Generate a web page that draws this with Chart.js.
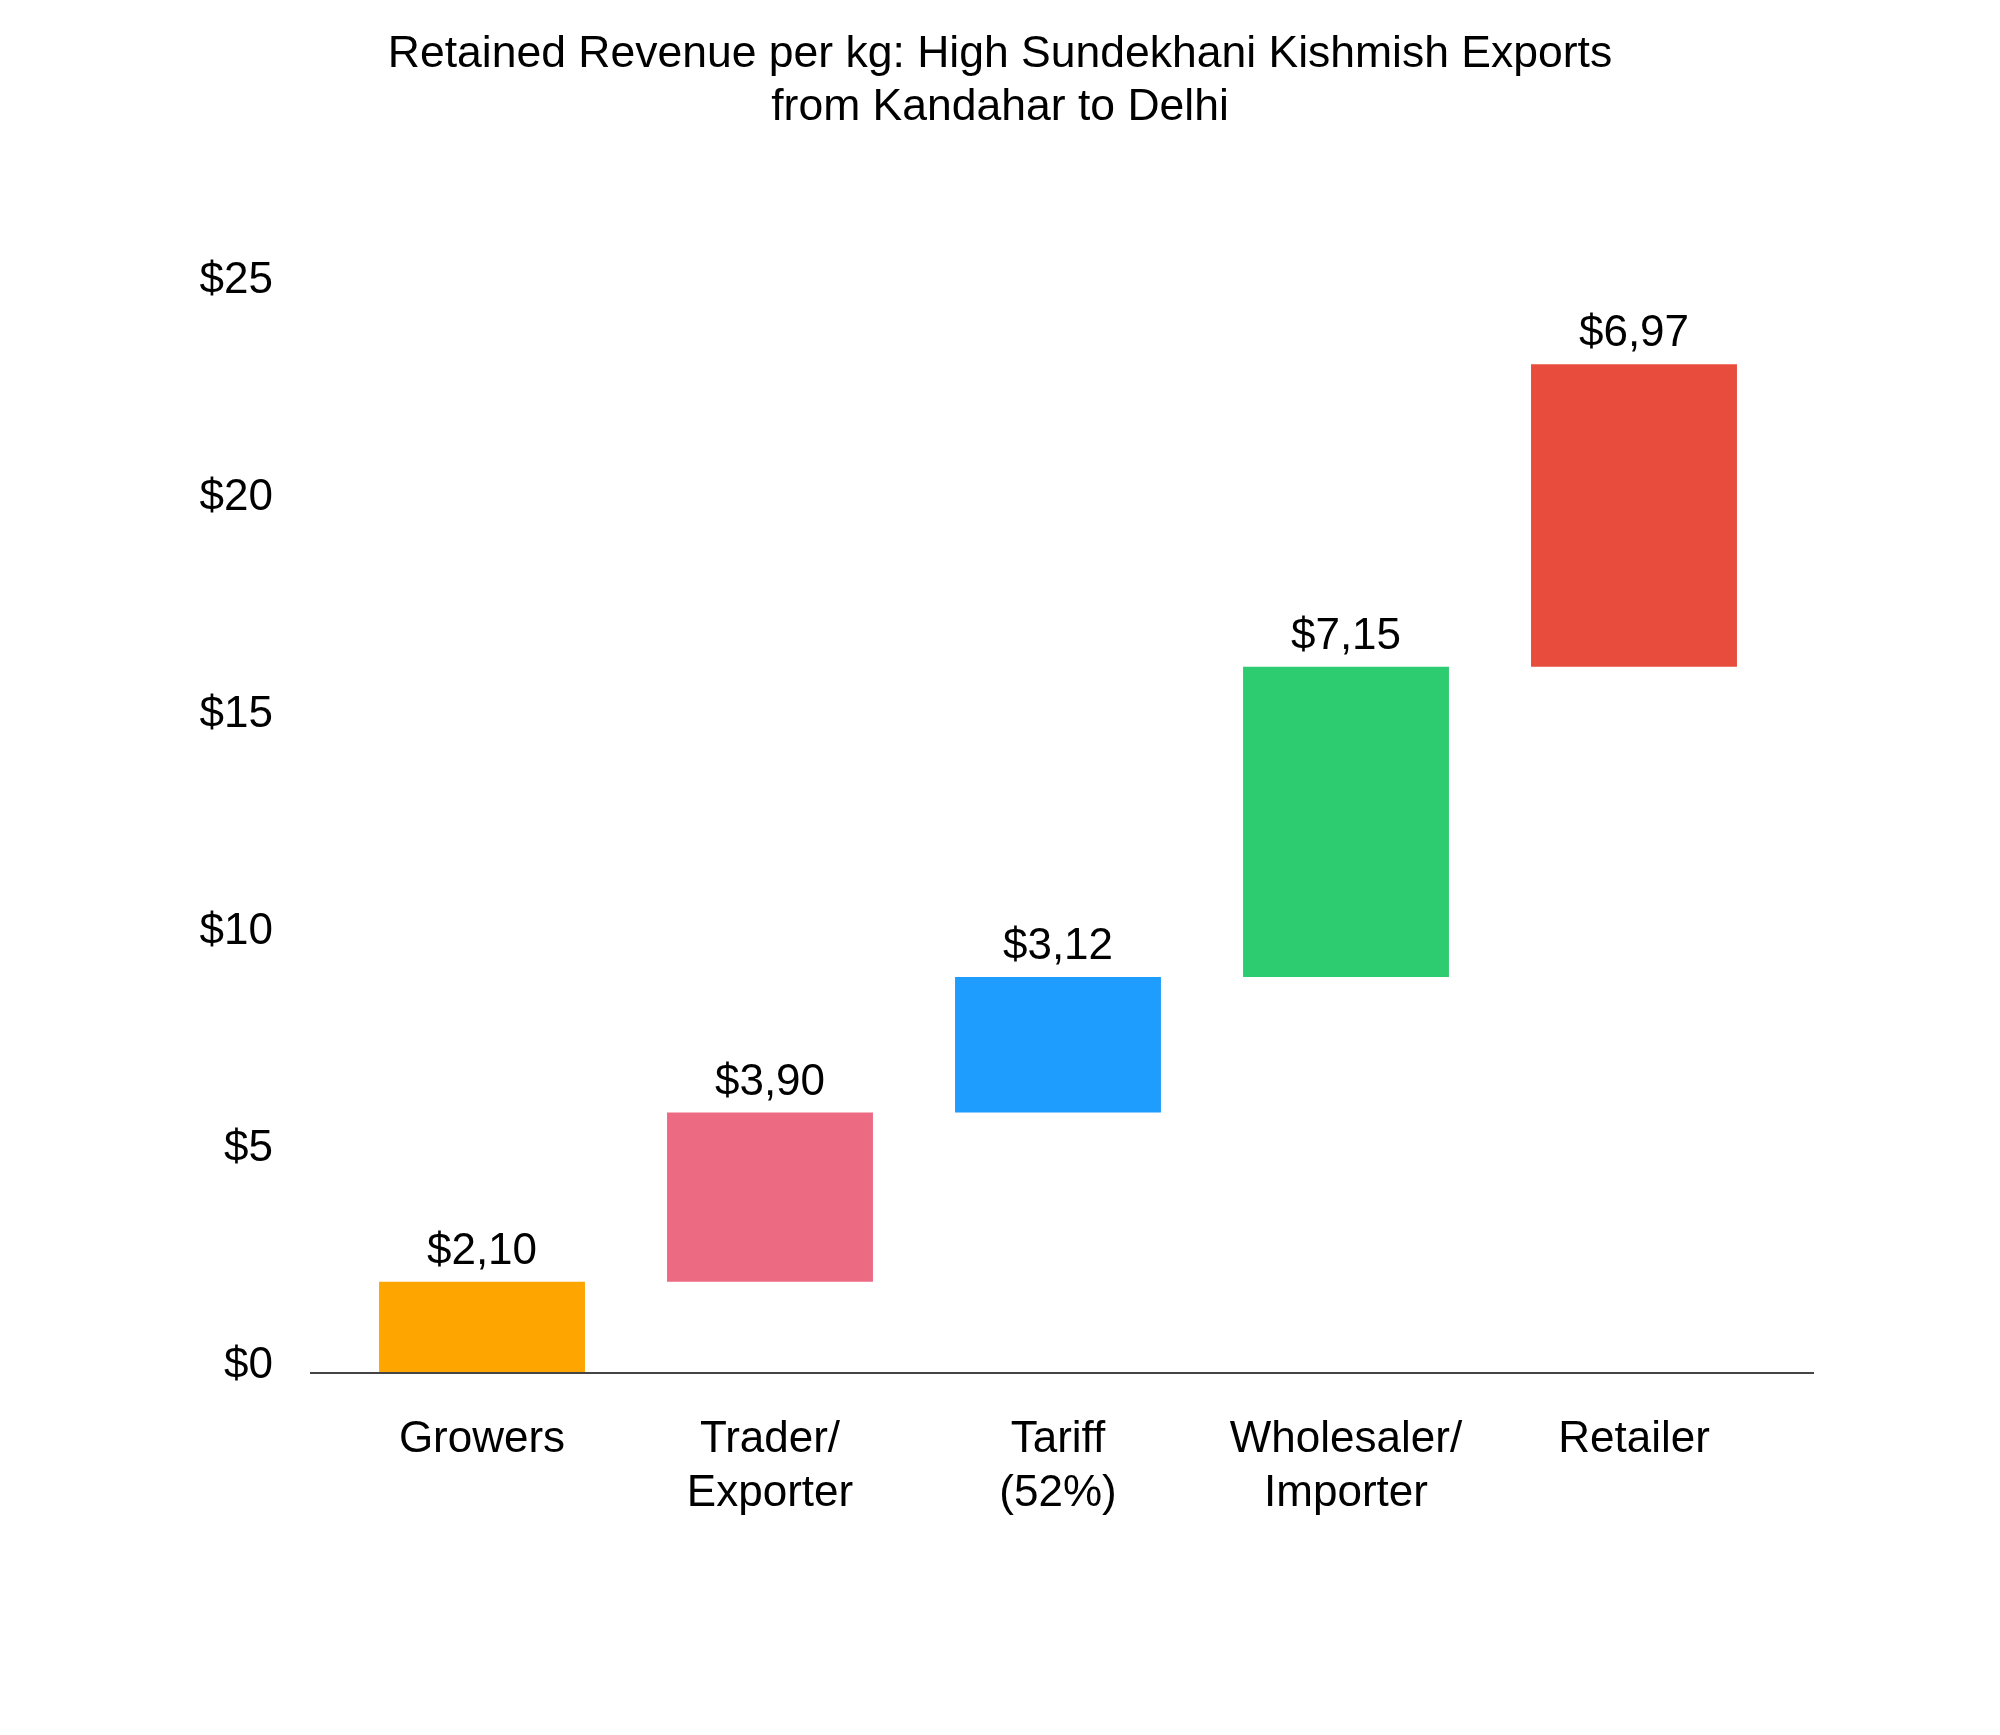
<!DOCTYPE html>
<html>
<head>
    <title>Retained Revenue per kg</title>
    <script src="https://cdn.jsdelivr.net/npm/chart.js"></script>
    <style>
        body {
            margin: 0;
            background: #ffffff;
        }
    </style>
</head>
<body>
    <canvas id="waterfallChart" width="2000" height="1735"></canvas>

    <script>
        const categories = [
            ['Growers'],
            ['Trader/', 'Exporter'],
            ['Tariff', '(52%)'],
            ['Wholesaler/', 'Importer'],
            ['Retailer']
        ];
        const retainedValues = [2.10, 3.90, 3.12, 7.15, 6.97];
        const barColors = ['#FFA500', '#EC6A82', '#1E9DFE', '#2ECC71', '#E74C3C'];
        const yTicks = [0, 5, 10, 15, 20, 25];

        const fontFamily = '"Liberation Sans", Arial, sans-serif';

        // stack each step on top of the previous one (waterfall)
        let running = 0;
        const floatingBars = retainedValues.map(v => {
            const bar = [running, running + v];
            running += v;
            return bar;
        });

        function money(v) {
            return '$' + v.toFixed(2).replace('.', ',');
        }

        // value labels above bars + baseline that runs a bit past the plot
        const waterfallExtras = {
            id: 'waterfallExtras',
            afterDatasetsDraw(chart) {
                const ctx = chart.ctx;
                const area = chart.chartArea;
                const zeroY = chart.scales.y.getPixelForValue(0);

                ctx.save();
                ctx.strokeStyle = '#444444';
                ctx.lineWidth = 2;
                ctx.beginPath();
                ctx.moveTo(area.left - 28, zeroY);
                ctx.lineTo(area.right + 36, zeroY);
                ctx.stroke();

                ctx.fillStyle = '#000000';
                ctx.font = '44px ' + fontFamily;
                ctx.textAlign = 'center';
                ctx.textBaseline = 'alphabetic';
                chart.getDatasetMeta(0).data.forEach((bar, i) => {
                    ctx.fillText(money(retainedValues[i]), bar.x, bar.y - 18);
                });
                ctx.restore();
            }
        };

        const ctx = document.getElementById('waterfallChart').getContext('2d');
        new Chart(ctx, {
            type: 'bar',
            data: {
                labels: categories,
                datasets: [{
                    data: floatingBars,
                    backgroundColor: barColors,
                    borderWidth: 0,
                    categoryPercentage: 1,
                    barPercentage: 0.715
                }]
            },
            options: {
                responsive: false,
                animation: false,
                devicePixelRatio: 1,
                layout: {
                    padding: 0
                },
                plugins: {
                    legend: { display: false },
                    tooltip: { enabled: false },
                    title: {
                        display: true,
                        text: ['Retained Revenue per kg: High Sundekhani Kishmish Exports', 'from Kandahar to Delhi'],
                        color: '#000000',
                        font: { family: fontFamily, size: 44.5, weight: 'normal', lineHeight: 1.2 },
                        padding: { top: 28, bottom: 153 }
                    }
                },
                scales: {
                    x: {
                        grid: { display: false, drawTicks: false },
                        border: { display: false },
                        ticks: {
                            color: '#000000',
                            padding: 40,
                            maxRotation: 0,
                            font: { family: fontFamily, size: 44, lineHeight: 1.22 }
                        },
                        afterFit(scale) {
                            scale.height = 362;
                        }
                    },
                    y: {
                        min: 0,
                        max: 25,
                        grid: { display: false, drawTicks: false },
                        border: { display: false },
                        afterBuildTicks(scale) {
                            scale.ticks = yTicks.map(v => ({ value: v }));
                        },
                        ticks: {
                            color: '#000000',
                            padding: 65,
                            labelOffset: -7,
                            font: { family: fontFamily, size: 44 },
                            callback: v => '$' + v
                        },
                        afterFit(scale) {
                            scale.width = 338;
                        }
                    },
                    // empty right-hand axis, only reserves the right margin
                    yRight: {
                        position: 'right',
                        grid: { display: false, drawTicks: false },
                        border: { display: false },
                        ticks: { display: false },
                        afterFit(scale) {
                            scale.width = 222;
                        }
                    }
                }
            },
            plugins: [waterfallExtras]
        });
    </script>
</body>
</html>
